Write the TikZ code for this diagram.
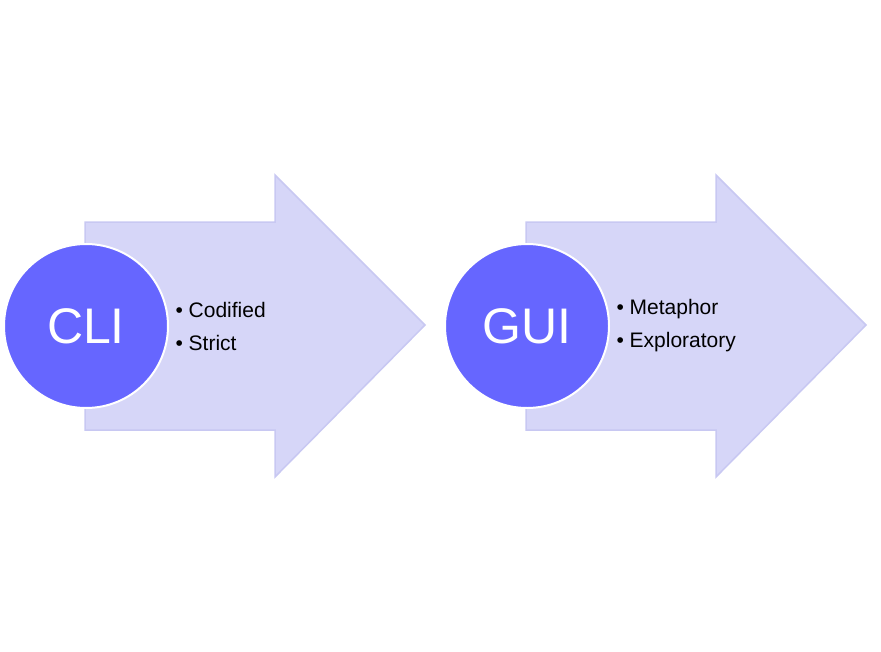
\documentclass[tikz,border=0pt]{standalone}
\usepackage{fontspec}
\setmainfont{Liberation Sans}
\definecolor{arrowfill}{HTML}{D6D6F8}
\definecolor{arrowline}{HTML}{C8C8F2}
\definecolor{discfill}{HTML}{6666FF}
\tikzset{
  bigarrow/.style={fill=arrowfill, draw=arrowline, line width=1.5pt},
  disc/.style={circle, fill=discfill, draw=white, line width=2pt, minimum size=164pt, inner sep=0pt,
    text=white, font=\fontsize{50}{50}\selectfont},
  points/.style={align=left, anchor=west, font=\fontsize{21}{33}\selectfont}
}
\begin{document}
\begin{tikzpicture}[x=1pt,y=-1pt]
\useasboundingbox (0,0) rectangle (881,651);
% first arrow
\draw[bigarrow] (85,222) -- (275,222) -- (275,175) -- (425,325) -- (275,477) -- (275,430) -- (85,430) -- cycle;
\node[disc] (cli) at (86,326) {CLI};
\node[points] (clitext) at (172,326) {\textbullet\ Codified\\\textbullet\ Strict};
% second arrow
\draw[bigarrow] (526,222) -- (716,222) -- (716,175) -- (866,325) -- (716,477) -- (716,430) -- (526,430) -- cycle;
\node[disc] (gui) at (527,326) {GUI};
\node[points] (guitext) at (613,326) {\textbullet\ Metaphor\\\textbullet\ Exploratory};
\end{tikzpicture}
\end{document}
